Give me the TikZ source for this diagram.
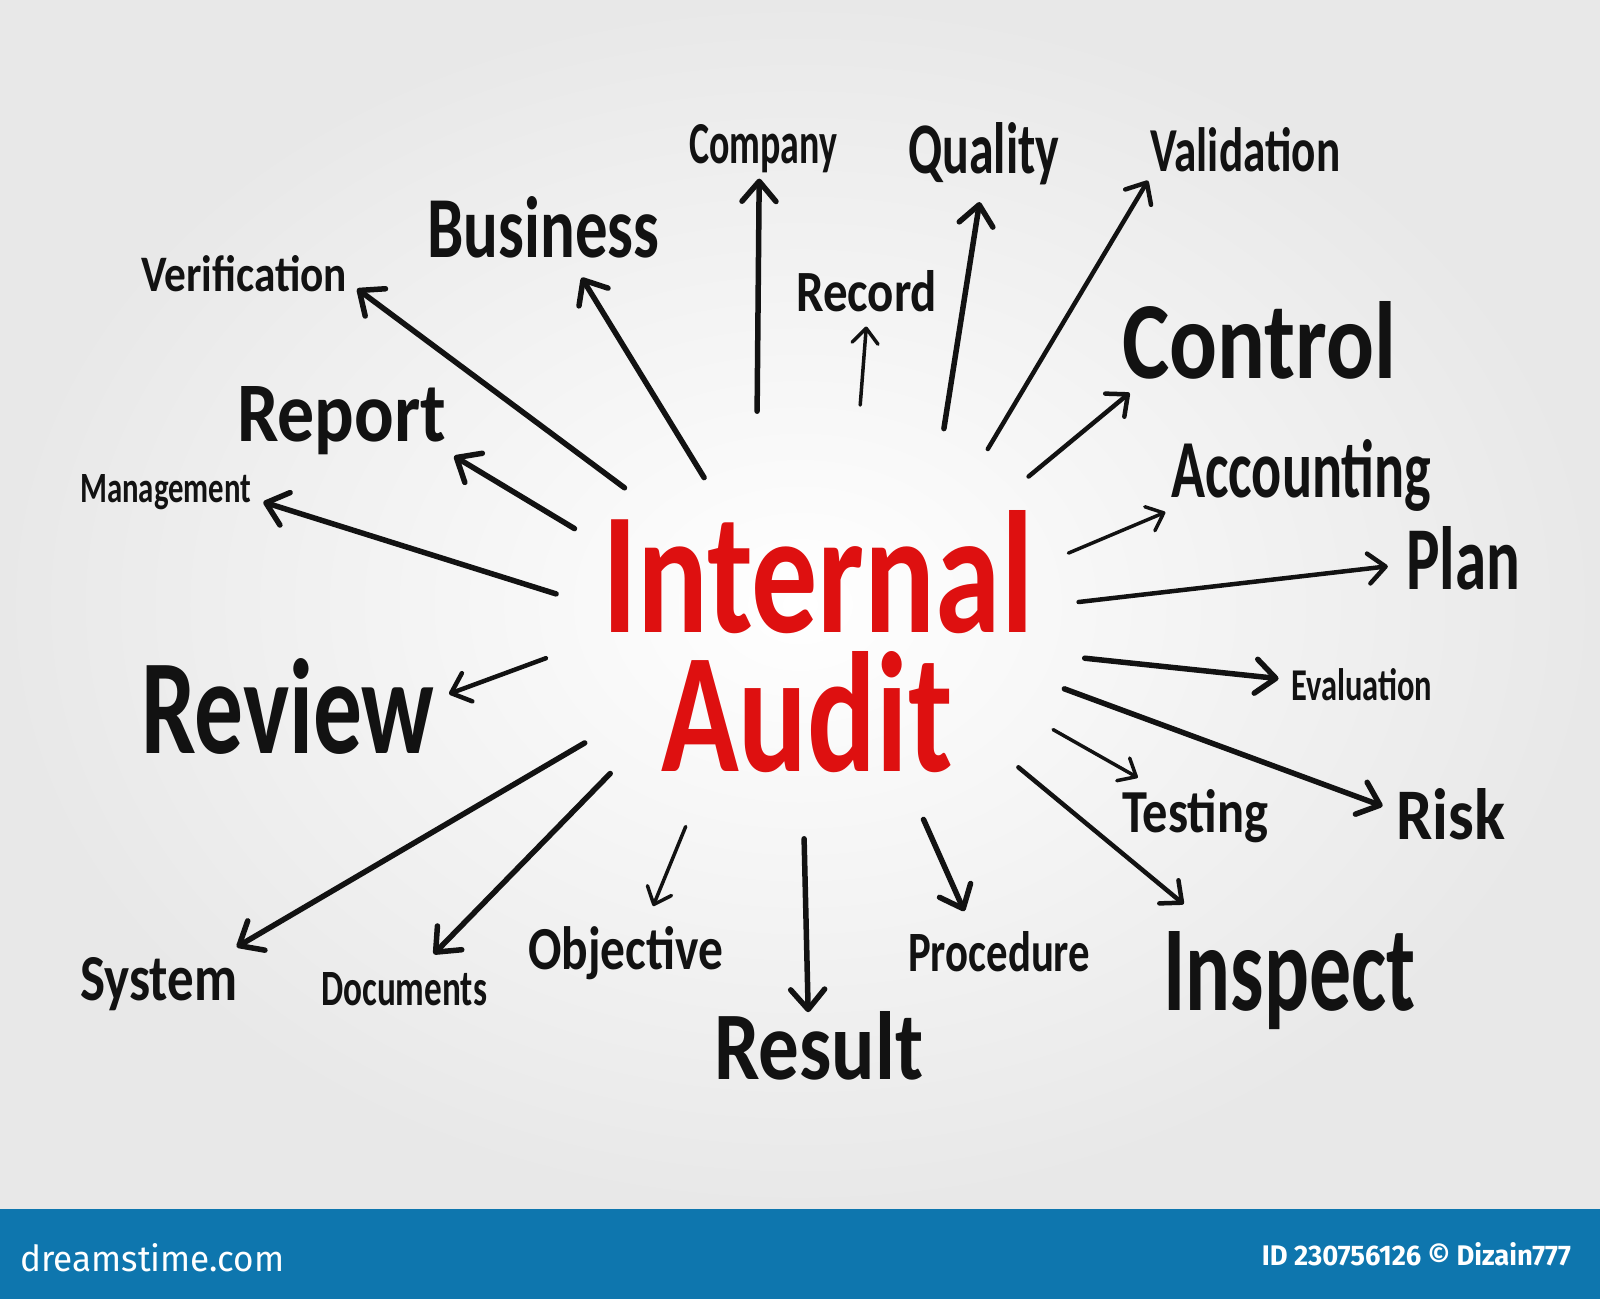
\documentclass[tikz,border=0pt]{standalone}
\usepackage{fontspec}
\setmainfont{Carlito}
\newfontfamily\hand{Carlito}
\newfontfamily\logofont{Fira Sans}
\usetikzlibrary{arrows.meta}
\definecolor{ink}{RGB}{18,18,18}
\definecolor{audred}{RGB}{222,16,16}
\definecolor{barblue}{RGB}{14,118,174}
\newcommand{\hw}[3]{\resizebox{#1pt}{#2pt}{\hand\bfseries #3}}
\begin{document}
\begin{tikzpicture}[x=1pt,y=-1pt,
  word/.style={anchor=base west, inner sep=0pt, text=ink},
  arr/.style={draw=ink, line width=5.5pt, line cap=round, -{Straight Barb[length=20pt,width=34pt,round]}},
  arrmid/.style={arr, line width=4.5pt, -{Straight Barb[length=17pt,width=30pt,round]}},
  arrthin/.style={arr, line width=3.5pt, -{Straight Barb[length=15pt,width=26pt,round]}}]
\useasboundingbox (0,0) rectangle (1600,1299);
\shade[inner color=white, outer color=black!9] (0,0) rectangle (1600,1209);
\fill[barblue] (0,1209) rectangle (1600,1299);

% centre
\node[anchor=north west, inner sep=0pt, text=audred, align=left] (title) at (602,510)
  {\resizebox{431pt}{122pt}{\hand\bfseries Internal}\\[17pt]\hspace*{59pt}\resizebox{291pt}{120pt}{\hand\bfseries Audit}};

% words
\node[word] (company) at (689,163) {\hw{148}{39}{Company}};
\node[word] (quality) at (908,173) {\hw{151}{51}{Quality}};
\node[word] (validation) at (1150,171) {\hw{190}{44}{Validation}};
\node[word] (business) at (427,257) {\hw{232}{61}{Business}};
\node[word] (verification) at (141,291) {\hw{206}{36}{Verification}};
\node[word] (record) at (796,311) {\hw{141}{41}{Record}};
\node[word] (control) at (1122,378) {\hw{274}{77}{Control}};
\node[word] (report) at (237,441) {\hw{209}{55}{Report}};
\node[word] (accounting) at (1171,497) {\hw{260}{58}{Accounting}};
\node[word] (management) at (80,502) {\hw{171}{28}{Management}};
\node[word] (plan) at (1406,589) {\hw{114}{63}{Plan}};
\node[word] (review) at (141,753) {\hw{293}{95}{Review}};
\node[word] (evaluation) at (1291,700) {\hw{141}{32}{Evaluation}};
\node[word] (testing) at (1122,832) {\hw{146}{43}{Testing}};
\node[word] (risk) at (1396,839) {\hw{109}{51}{Risk}};
\node[word] (system) at (80,1000) {\hw{157}{43}{System}};
\node[word] (documents) at (321,1005) {\hw{166}{33}{Documents}};
\node[word] (objective) at (528,969) {\hw{195}{43}{Objective}};
\node[word] (procedure) at (908,971) {\hw{182}{40}{Procedure}};
\node[word] (inspect) at (1163,1010) {\hw{252}{79}{Inspect}};
\node[word] (result) at (714,1079) {\hw{209}{68}{Result}};

% arrow end points
\coordinate (tVer) at (624.5,487.8);  \coordinate (hVer) at (357.1,288.8);
\coordinate (tBus) at (704.1,477.6);  \coordinate (hBus) at (581.6,277.6);
\coordinate (tCom) at (757.1,411.2);  \coordinate (hCom) at (759.2,178.6);
\coordinate (tRec) at (860.2,405.1);  \coordinate (hRec) at (866.3,326.5);
\coordinate (tQua) at (943.9,428.6);  \coordinate (hQua) at (979.6,202.0);
\coordinate (tVal) at (987.8,449.0);  \coordinate (hVal) at (1148.0,180.6);
\coordinate (tCon) at (1028.6,476.5); \coordinate (hCon) at (1129.6,392.9);
\coordinate (tAcc) at (1068.4,553.1); \coordinate (hAcc) at (1165.3,512.2);
\coordinate (tPla) at (1078.6,602.0); \coordinate (hPla) at (1387.8,566.3);
\coordinate (tEva) at (1084.7,658.2); \coordinate (hEva) at (1278.6,678.6);
\coordinate (tRis) at (1064.3,688.8); \coordinate (hRis) at (1382.6,806.1);
\coordinate (tTes) at (1053.1,729.6); \coordinate (hTes) at (1137.8,777.6);
\coordinate (tIns) at (1018.4,767.3); \coordinate (hIns) at (1183.7,904.1);
\coordinate (tPro) at (923.5,819.4);  \coordinate (hPro) at (964.3,911.2);
\coordinate (tRes) at (804.1,838.8);  \coordinate (hRes) at (808.2,1012.2);
\coordinate (tObj) at (685.7,826.5);  \coordinate (hObj) at (653.1,906.1);
\coordinate (tDoc) at (610.2,773.5);  \coordinate (hDoc) at (433.7,954.1);
\coordinate (tSys) at (584.7,742.9);  \coordinate (hSys) at (236.7,947.0);
\coordinate (tRev) at (545.9,658.2);  \coordinate (hRev) at (449.0,693.9);
\coordinate (tMan) at (556.1,593.9);  \coordinate (hMan) at (263.3,502.0);
\coordinate (tRep) at (574.5,528.6);  \coordinate (hRep) at (454.1,456.1);

% arrows
\draw[arr] (tVer) -- (hVer);
\draw[arr] (tBus) -- (hBus);
\draw[arr] (tCom) -- (hCom);
\draw[arrthin] (tRec) -- (hRec);
\draw[arr] (tQua) -- (hQua);
\draw[arrmid] (tVal) -- (hVal);
\draw[arrmid] (tCon) -- (hCon);
\draw[arrthin] (tAcc) -- (hAcc);
\draw[arrmid] (tPla) -- (hPla);
\draw[arr] (tEva) -- (hEva);
\draw[arr] (tRis) -- (hRis);
\draw[arrthin] (tTes) -- (hTes);
\draw[arrmid] (tIns) -- (hIns);
\draw[arr] (tPro) -- (hPro);
\draw[arr] (tRes) -- (hRes);
\draw[arrthin] (tObj) -- (hObj);
\draw[arr] (tDoc) -- (hDoc);
\draw[arr] (tSys) -- (hSys);
\draw[arrmid] (tRev) -- (hRev);
\draw[arr] (tMan) -- (hMan);
\draw[arr] (tRep) -- (hRep);

% footer
\node[anchor=base west, inner sep=0pt, text=white] (logo) at (20,1271) {\resizebox{264pt}{28pt}{\logofont dreamstime.com}};
\node[anchor=base east, inner sep=0pt, text=white] (imgid) at (1571,1265) {\resizebox{309pt}{23pt}{\logofont\bfseries ID 230756126 © Dizain777}};
\end{tikzpicture}
\end{document}
